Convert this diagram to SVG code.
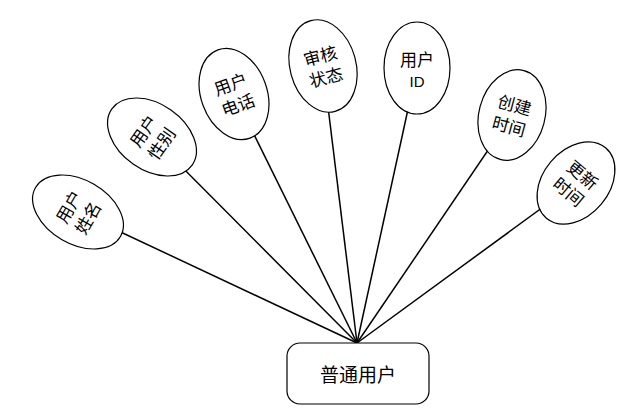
<svg xmlns="http://www.w3.org/2000/svg" width="630" height="419" viewBox="0 0 630 419">
<style>
.e{fill:#fff;stroke:#000;stroke-width:1.2}
.t{font-family:"Noto Sans CJK SC","Liberation Sans",sans-serif;font-size:17px;text-anchor:middle;fill:#000}
.c line{stroke:#000;stroke-width:1.5}
</style>
<rect width="630" height="419" fill="#fff"/>
<g class="c" id="connectors">
<line x1="78" y1="212" x2="357" y2="343"/>
<line x1="152" y1="137" x2="357" y2="343"/>
<line x1="234" y1="94" x2="357" y2="343"/>
<line x1="323" y1="66" x2="357" y2="343"/>
<line x1="417" y1="68" x2="357" y2="343"/>
<line x1="512" y1="115" x2="357" y2="343"/>
<line x1="576" y1="183" x2="357" y2="343"/>
</g>
<g id="n1" transform="translate(78,212) rotate(-60)">
<ellipse class="e" rx="32" ry="49"/>
<text class="t" x="0" y="-4">用户</text><text class="t" x="0" y="18">姓名</text>
</g>
<g id="n2" transform="translate(152,137) rotate(-55)">
<ellipse class="e" rx="33" ry="49"/>
<text class="t" x="0" y="-4">用户</text><text class="t" x="0" y="18">性别</text>
</g>
<g id="n3" transform="translate(234,94) rotate(-20)">
<ellipse class="e" rx="33" ry="47"/>
<text class="t" x="0" y="-4">用户</text><text class="t" x="0" y="18">电话</text>
</g>
<g id="n4" transform="translate(323,66) rotate(-15)">
<ellipse class="e" rx="33" ry="47"/>
<text class="t" x="0" y="-4">审核</text><text class="t" x="0" y="18">状态</text>
</g>
<g id="n5" transform="translate(417,68)">
<ellipse class="e" rx="33" ry="46"/>
<text class="t" x="0" y="-2">用户</text><text class="t" x="0" y="19" style="font-family:'Liberation Sans',sans-serif;font-size:15px">ID</text>
</g>
<g id="n6" transform="translate(512,115) rotate(15)">
<ellipse class="e" rx="33" ry="46"/>
<text class="t" x="0" y="-4">创建</text><text class="t" x="0" y="18">时间</text>
</g>
<g id="n7" transform="translate(576,183) rotate(40)">
<ellipse class="e" rx="33" ry="46"/>
<text class="t" x="0" y="-4">更新</text><text class="t" x="0" y="18">时间</text>
</g>
<g id="n8">
<rect x="287" y="343" width="142" height="61" rx="13" fill="#fff" stroke="#000" stroke-width="1.2"/>
<text class="t" x="358" y="382" style="font-size:19px">普通用户</text>
</g>
</svg>
